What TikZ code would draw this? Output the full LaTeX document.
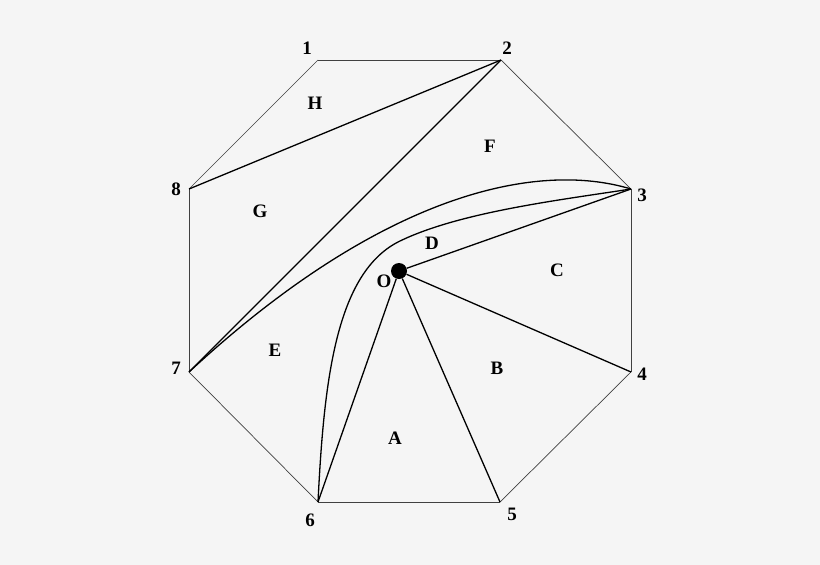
\documentclass[tikz,border=0pt]{standalone}
\usepackage{fontspec}
\setmainfont{Liberation Serif}
\begin{document}
\begin{tikzpicture}
  [x=1pt,y=-1pt,
   every node/.style={font=\fontsize{19}{22}\selectfont\bfseries},
   side/.style={line width=.7pt,black!75},
   chord/.style={line width=1.3pt}]
  \definecolor{paper}{RGB}{245,245,245}
  \fill[paper] (0,0) rectangle (820,565);
  \useasboundingbox (0,0) rectangle (820,565);

  % corners of the octagon
  \coordinate (v1) at (318,60);
  \coordinate (v2) at (501,60);
  \coordinate (v3) at (631,189);
  \coordinate (v4) at (631,372);
  \coordinate (v5) at (500,502);
  \coordinate (v6) at (318,502);
  \coordinate (v7) at (189,372);
  \coordinate (v8) at (189,189);
  \coordinate (bend) at (400,241);

  \foreach \from/\to in {v1/v2,v2/v3,v3/v4,v4/v5,v5/v6,v6/v7,v7/v8,v8/v1}
    \draw[side] (\from) -- (\to);

  \node (O) at (399,271) [circle,fill=black,inner sep=0pt,minimum size=16pt] {};

  \foreach \from/\to in {v8/v2,v7/v2}
    \draw[chord] (\from) -- (\to);
  \foreach \to in {v3,v4,v5,v6}
    \draw[chord] (O) -- (\to);

  \draw[chord] (v7) .. controls (380,195) and (535,160) .. (v3);
  \draw[chord] (v6) .. controls (324,380) and (336,272) .. (bend)
                    .. controls (460,212) and (560,200) .. (v3);

  % corner numbers
  \node (n1) at (307,48)  {1};
  \node (n2) at (507,48)  {2};
  \node (n3) at (642,195) {3};
  \node (n4) at (642,374) {4};
  \node (n5) at (512,514) {5};
  \node (n6) at (310,520) {6};
  \node (n7) at (176,368) {7};
  \node (n8) at (176,189) {8};
  \node (lO) at (384,281) {O};

  % regions
  \node (H) at (315,103) {H};
  \node (F) at (490,146) {F};
  \node (G) at (260,211) {G};
  \node (D) at (432,243) {D};
  \node (C) at (557,270) {C};
  \node (E) at (275,350) {E};
  \node (B) at (497,368) {B};
  \node (A) at (395,438) {A};
\end{tikzpicture}
\end{document}
